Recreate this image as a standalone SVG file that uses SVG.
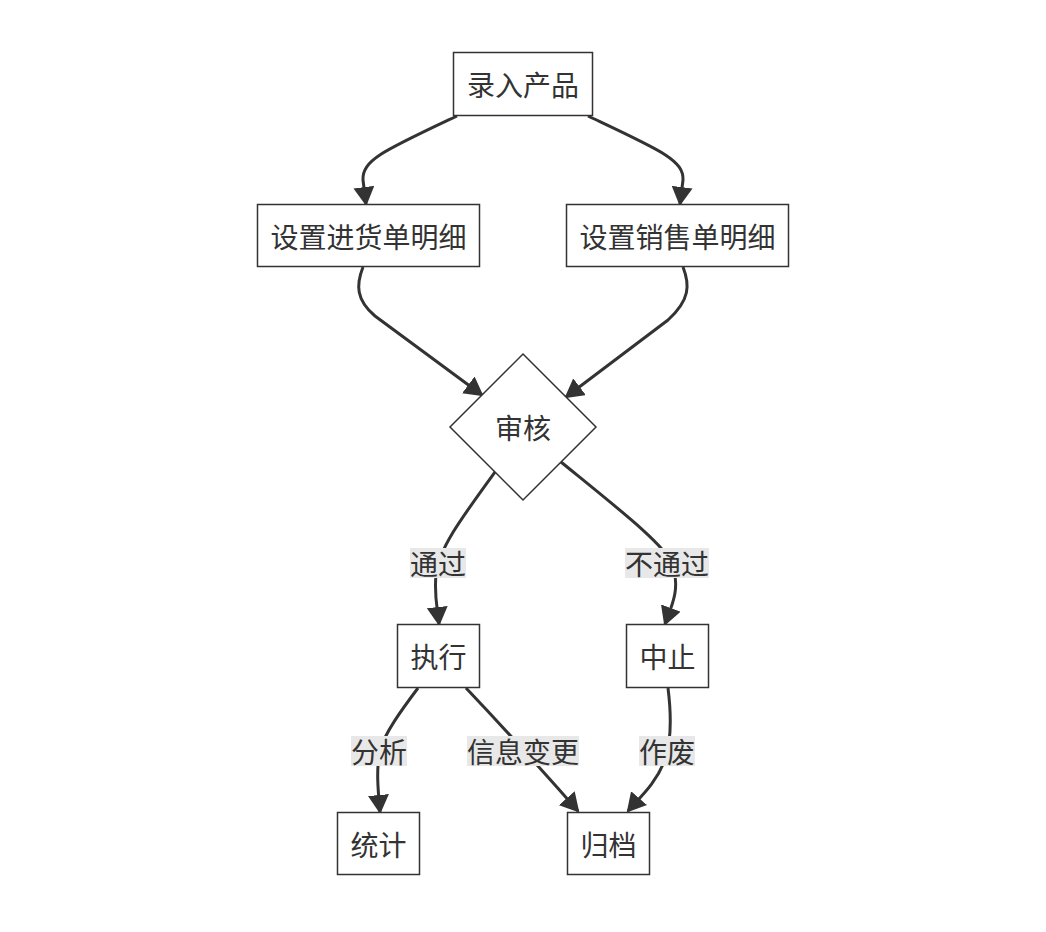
<svg xmlns="http://www.w3.org/2000/svg" width="1046" height="932" viewBox="0 0 1046 932">
<style>
.node rect,.node polygon{fill:#ffffff;stroke:#333333;stroke-width:1.5}
.node text,.lbl text{font-family:"Noto Sans CJK SC","Noto Sans",sans-serif;font-size:28px;fill:#333333;text-anchor:middle;dominant-baseline:central}
.edge{fill:none;stroke:#333333;stroke-width:3;marker-end:url(#arr)}
.lbl rect{fill:#e8e8e8}
</style>
<defs>
<marker id="arr" markerUnits="userSpaceOnUse" viewBox="0 0 19 21" markerWidth="19" markerHeight="21" refX="17" refY="10.5" orient="auto">
<path d="M0,0 L19,10.5 L0,21 z" fill="#333333"/>
</marker>
</defs>
<rect width="1046" height="932" fill="#ffffff"/>
<g id="connectors">
<path class="edge" d="M457,116 C385,150 362,160 363,180 L366,204"/>
<path class="edge" d="M588,116 C660,150 684,160 683,180 L680,204"/>
<path class="edge" d="M363,267 C356,285 356,300 375,316 L482,395"/>
<path class="edge" d="M683,267 C690,285 690,300 668,320 L566,397"/>
<path class="edge" d="M495,472 C460,520 438,550 436,575 C434,595 437,605 439,624"/>
<path class="edge" d="M561,462 C620,510 665,545 673,565 C680,590 672,605 665,624"/>
<path class="edge" d="M418,688 C400,712 385,733 380,750 C376,770 378,790 380,812"/>
<path class="edge" d="M466,688 Q520,745 578,811"/>
<path class="edge" d="M668,688 C672,720 670,745 665,760 C655,785 640,797 628,811"/>
<g class="lbl"><rect x="410" y="548" width="56" height="30"/><text x="438" y="563">通过</text></g>
<g class="lbl"><rect x="625" y="548" width="84" height="30"/><text x="667" y="563">不通过</text></g>
<g class="lbl"><rect x="351" y="736" width="56" height="30"/><text x="379" y="751">分析</text></g>
<g class="lbl"><rect x="467" y="736" width="112" height="30"/><text x="523" y="751">信息变更</text></g>
<g class="lbl"><rect x="639" y="736" width="56" height="30"/><text x="667" y="751">作废</text></g>
</g>
<g id="n-luru" class="node"><rect x="453.5" y="52.5" width="139" height="63"/><text x="523" y="84">录入产品</text></g>
<g id="n-jinhuo" class="node"><rect x="257.5" y="204.5" width="222" height="62"/><text x="368.5" y="235.5">设置进货单明细</text></g>
<g id="n-xiaoshou" class="node"><rect x="566.5" y="204.5" width="222" height="62"/><text x="677.5" y="235.5">设置销售单明细</text></g>
<g id="n-shenhe" class="node"><polygon points="523,354 596,427 523,500 450,427"/><text x="523" y="427">审核</text></g>
<g id="n-zhixing" class="node"><rect x="397.5" y="624.5" width="82" height="63"/><text x="438.5" y="656">执行</text></g>
<g id="n-zhongzhi" class="node"><rect x="626.5" y="624.5" width="82" height="63"/><text x="667.5" y="656">中止</text></g>
<g id="n-tongji" class="node"><rect x="337.5" y="812.5" width="82" height="62"/><text x="378.5" y="843.5">统计</text></g>
<g id="n-guidang" class="node"><rect x="567.5" y="812.5" width="82" height="62"/><text x="608.5" y="843.5">归档</text></g>
</svg>
